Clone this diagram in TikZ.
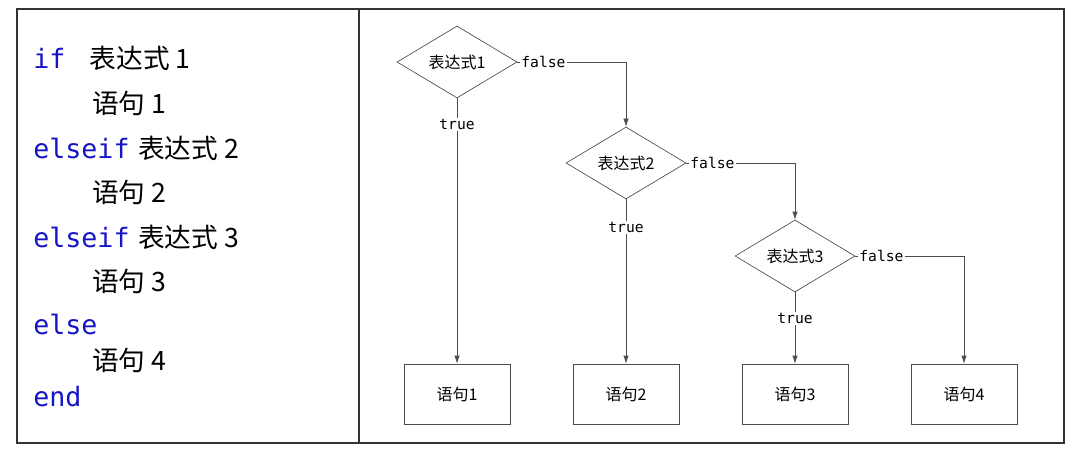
\documentclass[tikz,border=0pt]{standalone}
\usepackage{fontspec}
\setmainfont{DejaVu Sans}
\newfontfamily\cjk{Noto Sans CJK SC}
\newfontfamily\codemono{DejaVu Sans Mono}
\usetikzlibrary{shapes.geometric,arrows.meta}
\definecolor{kw}{RGB}{20,20,200}
\tikzset{
 dia/.style={diamond,draw=black!70,line width=0.5pt,minimum width=90pt,minimum height=54pt,inner sep=0pt,font=\cjk\fontsize{12}{14}\selectfont,aspect=1.67},
 stmt/.style={rectangle,draw=black!70,line width=0.5pt,minimum width=79.5pt,minimum height=45pt,font=\cjk\fontsize{12}{14}\selectfont},
 lbl/.style={fill=white,inner sep=1pt,font=\codemono\fontsize{11}{13}\selectfont},
 conn/.style={draw=black!70,line width=0.5pt,-{Latex[length=6pt,width=4pt]}},
 code/.style={anchor=west,inner sep=0pt,font=\fontsize{20}{24}\selectfont},
}
\begin{document}
\begin{tikzpicture}[x=0.75pt,y=-0.75pt]
\useasboundingbox[fill=white] (0,0) rectangle (1080,456);
\draw[black!80,line width=0.8pt] (17,9) rectangle (1064,443);
\draw[black!80,line width=0.8pt] (359,9) -- (359,443);
\node[code] (c1) at (33,58) {{\codemono\color{kw}if\ } \cjk 表达式 1};
\node[code] (c2) at (92,103) {\cjk 语句 1};
\node[code] (c3) at (33,148) {{\codemono\color{kw}elseif} \cjk 表达式 2};
\node[code] (c4) at (92,192) {\cjk 语句 2};
\node[code] (c5) at (33,237) {{\codemono\color{kw}elseif} \cjk 表达式 3};
\node[code] (c6) at (92,281) {\cjk 语句 3};
\node[code] (c7) at (33,324) {{\codemono\color{kw}else}};
\node[code] (c8) at (92,360) {\cjk 语句 4};
\node[code] (c9) at (33,397) {{\codemono\color{kw}end}};
\node[dia] (d1) at (457,62) {表达式1};
\node[dia] (d2) at (626,163) {表达式2};
\node[dia] (d3) at (795,256) {表达式3};
\node[stmt] (s1) at (457,394) {语句1};
\node[stmt] (s2) at (626,394) {语句2};
\node[stmt] (s3) at (795,394) {语句3};
\node[stmt] (s4) at (964,394) {语句4};
\draw[conn] (d1.south) -- node[lbl,pos=0.1] {true} (s1.north);
\draw[conn] (d2.south) -- node[lbl,pos=0.17] {true} (s2.north);
\draw[conn] (d3.south) -- node[lbl,pos=0.37] {true} (s3.north);
\draw[conn] (d1.east) -- node[lbl,pos=0.24] {false} (d1.east -| d2.north) -- (d2.north);
\draw[conn] (d2.east) -- node[lbl,pos=0.24] {false} (d2.east -| d3.north) -- (d3.north);
\draw[conn] (d3.east) -- node[lbl,pos=0.24] {false} (d3.east -| s4.north) -- (s4.north);
\end{tikzpicture}
\end{document}
